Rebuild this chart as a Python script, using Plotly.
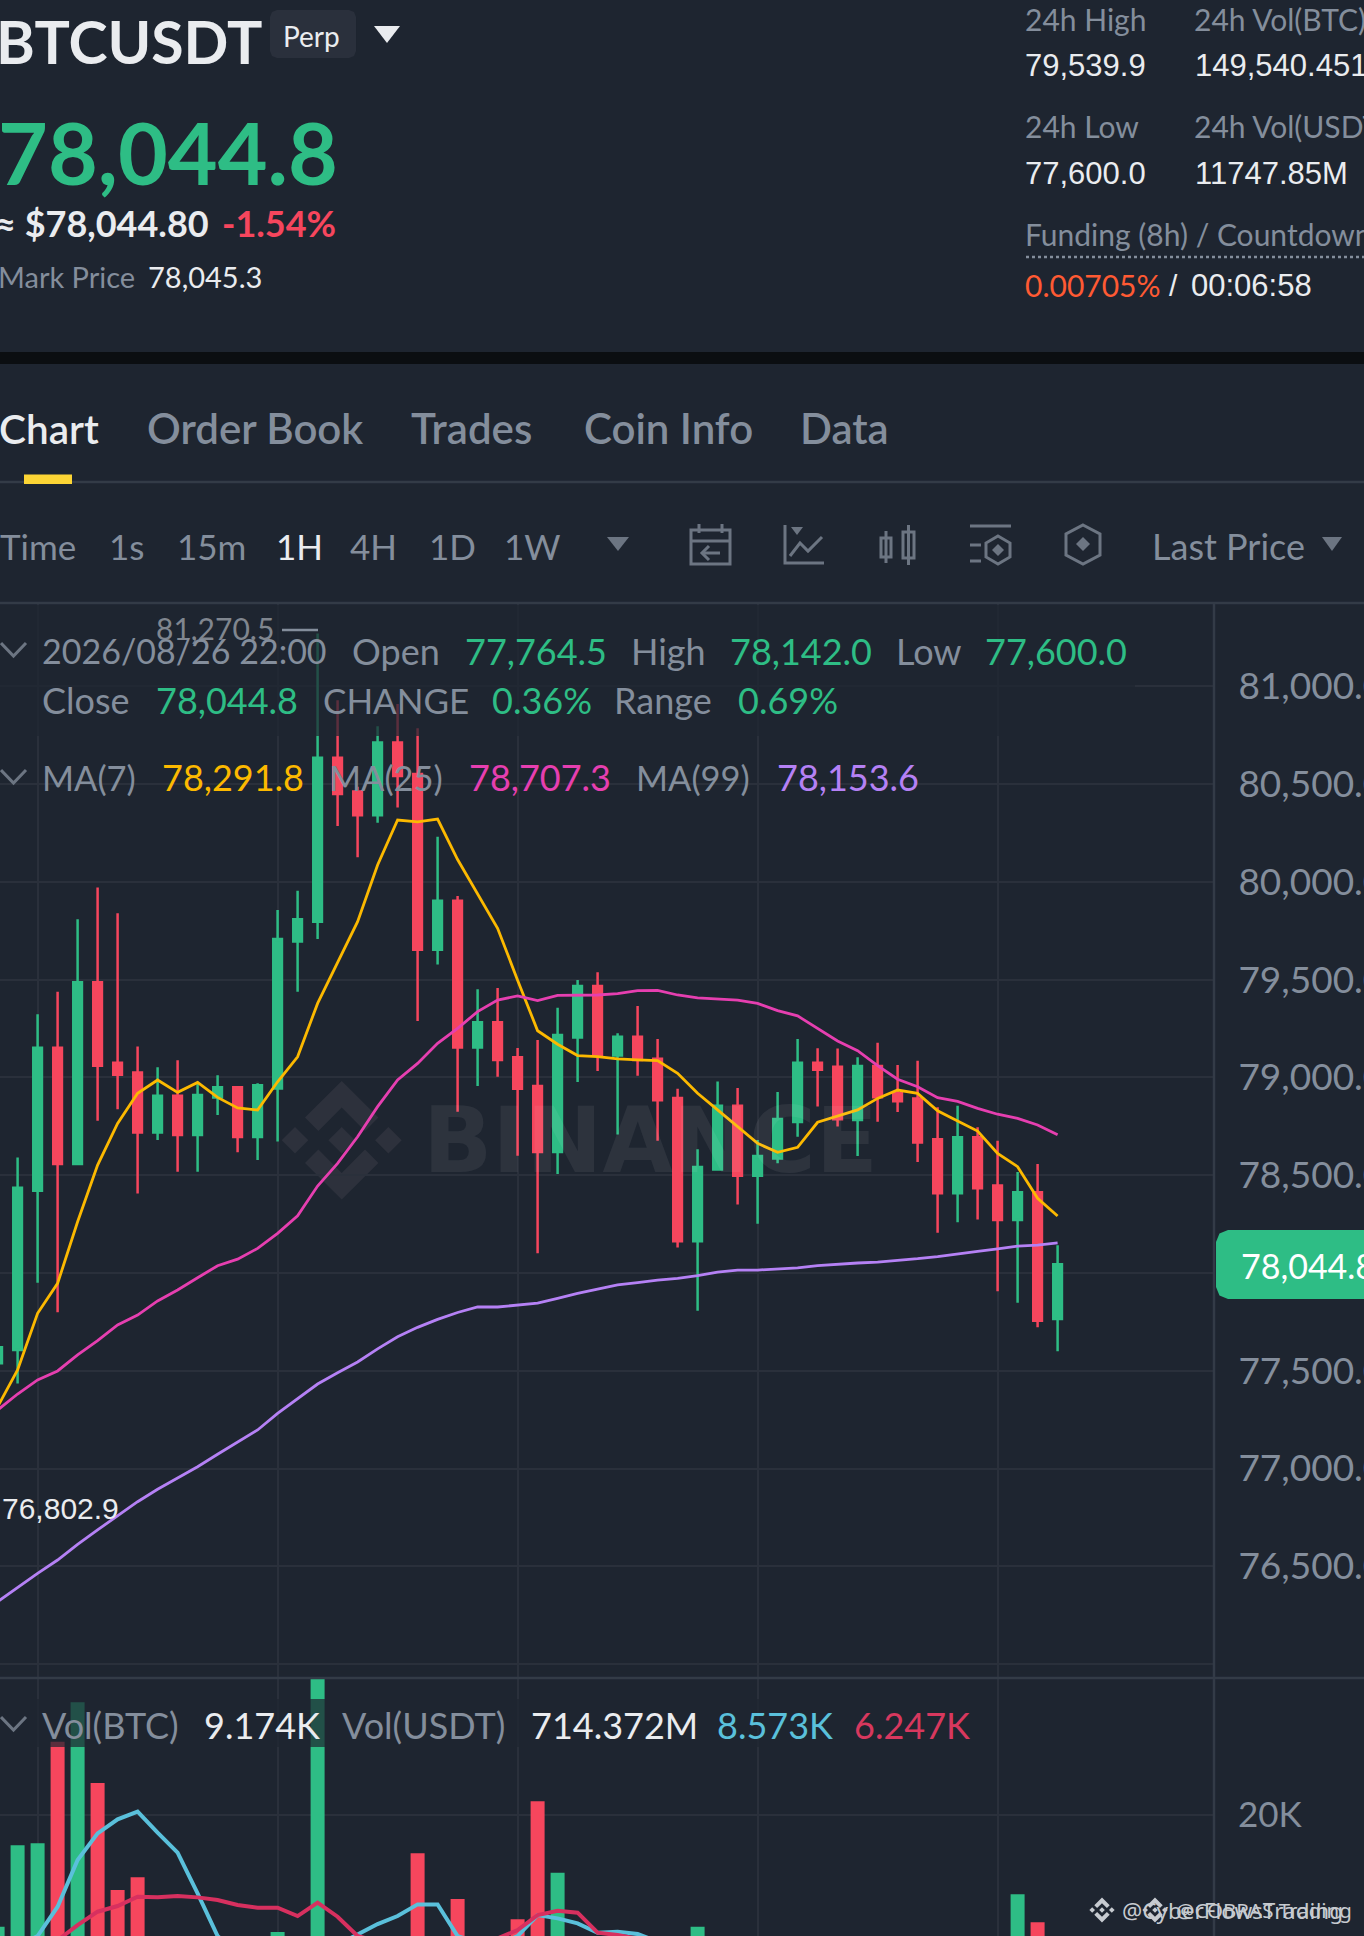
"""Binance-style BTCUSDT perp chart screen rebuilt with Plotly."""

import plotly.graph_objects as go
from plotly.subplots import make_subplots

WIDTH = 1364
HEIGHT = 1936

CANDLE_X = list(range(54))
OPEN = [77538, 77606, 78421, 79152, 78557, 79487, 79076, 79026, 78718, 78907, 78706, 78898, 78950, 78695,
        78944, 79695, 79797, 80635, 80463, 80341, 80714, 80552, 79653, 79904, 79153, 79282, 79103, 78957,
        78619, 79204, 79468, 79113, 79209, 79096, 78895, 78162, 78529, 78856, 78498, 78585, 78772, 79076,
        79055, 78783, 79059, 78919, 78892, 78684, 78408, 78694, 78448, 78271, 78413, 77764.5]
CLOSE = [77620, 78436, 79152, 78557, 79487, 79060, 79014, 78718, 78907, 78706, 78910, 78950, 78695, 78960,
         79708, 79810, 80635, 80450, 80341, 80714, 80542, 79653, 79904, 79154, 79282, 79090, 78943, 78619,
         79217, 79468, 79113, 79209, 79090, 78883, 78162, 78542, 78856, 78498, 78599, 78788, 79076, 79040,
         78786, 79059, 78899, 78878, 78668, 78408, 78694, 78433, 78271, 78413, 77756, 78044.8]
HIGH = [77640, 78591, 79323, 79439, 79809, 79972, 79840, 79158, 79052, 79088, 78978, 79011, 78956, 78970,
        79857, 79955, 81270.5, 80930, 80487, 80797, 80910, 80786, 80231, 79928, 79451, 79458, 79151, 79192,
        79357, 79499, 79538, 79226, 79366, 79197, 78943, 78633, 78979, 78946, 78680, 78926, 79197, 79149,
        79148, 79103, 79178, 79064, 79086, 78848, 78856, 78745, 78677, 78517, 78558, 78142]
LOW = [77500, 77435, 77950, 77799, 78557, 78779, 78837, 78407, 78680, 78518, 78518, 78808, 78617, 78578,
       78672, 79439, 79708, 80286, 80126, 80303, 80381, 79289, 79578, 78825, 78956, 79004, 78600, 78101,
       78506, 78977, 79033, 78709, 79009, 78677, 78130, 77807, 78529, 78350, 78252, 78561, 78697, 78851,
       78749, 78599, 78774, 78824, 78568, 78206, 78259, 78273, 77906, 77848, 77722, 77600]

MA7 = [77316, 77504, 77794, 77947, 78262, 78552, 78765, 78919, 78987, 78924, 78975, 78898, 78844, 78834,
       78978, 79106, 79379, 79592, 79797, 80087, 80317, 80308, 80322, 80115, 79942, 79763, 79498, 79239,
       79170, 79112, 79107, 79095, 79090, 79086, 79021, 78919, 78834, 78749, 78663, 78617, 78643, 78771,
       78803, 78834, 78893, 78936, 78919, 78830, 78778, 78726, 78612, 78544, 78382, 78291.8]
MA25 = [77299, 77381, 77453, 77499, 77581, 77654, 77734, 77785, 77857, 77913, 77976, 78037, 78071, 78126,
        78203, 78293, 78445, 78561, 78697, 78851, 78987, 79072, 79175, 79251, 79337, 79396, 79417, 79393,
        79420, 79420, 79422, 79429, 79444, 79446, 79422, 79407, 79403, 79396, 79379, 79342, 79315, 79252,
        79187, 79137, 79061, 78991, 78953, 78897, 78878, 78842, 78812, 78791, 78757, 78707.3]
MA99 = [76319, 76392, 76464, 76532, 76612, 76686, 76757, 76830, 76894, 76950, 77009, 77073, 77137, 77197,
        77282, 77356, 77432, 77490, 77545, 77612, 77674, 77722, 77763, 77798, 77826, 77826, 77836, 77846,
        77870, 77896, 77917, 77939, 77951, 77964, 77973, 77986, 78005, 78015, 78015, 78019, 78026, 78038,
        78046, 78051, 78056, 78063, 78073, 78084, 78099, 78111, 78123, 78137, 78143, 78153.6]

VOLUME = [10286, 17360, 17534, 26375, 29796, 22781, 13475, 14576, 7800, 7200, 6100, 4200, 5000, 4800,
          9822, 6900, 32116, 8900, 6200, 7000, 7400, 16664, 8200, 12692, 5600, 6000, 10924, 21186,
          14982, 7000, 8600, 6800, 5000, 6200, 7800, 10286, 6000, 6100, 4600, 4700, 6300, 3400,
          5600, 5200, 4600, 3300, 5000, 6700, 5800, 5400, 8000, 13098, 10663, 9174]
VOL_MA_FAST = [7600, 8600, 9475, 12025, 16084, 18403, 19621, 20288, 18461, 16721, 13185, 9475, 8000, 6700,
               6900, 6500, 7800, 8700, 9561, 10518, 11214, 12228, 12228, 9475, 8900, 8700, 9475, 11300,
               11011, 10576, 9764, 9851, 9648, 9000, 7900, 7600, 7400, 7000, 6400, 6000, 5800, 5300,
               5100, 5000, 5100, 4800, 4700, 5100, 5300, 5500, 6200, 7600, 8200, 8573]
VOL_MA_SLOW = [8000, 8300, 8700, 9100, 10431, 11590, 12083, 12895, 12837, 12953, 12837, 12605, 12170, 11938,
               11938, 11214, 12373, 11156, 9475, 9000, 8800, 8700, 8800, 8900, 8900, 9271, 9996, 11300,
               11678, 11504, 9764, 9561, 9200, 8900, 8600, 8400, 8100, 7800, 7400, 7100, 6900, 6600,
               6400, 6300, 6200, 6000, 5900, 5800, 5700, 5800, 5900, 6000, 6100, 6247]

PRICE_TICKS = [76000, 76500, 77000, 77500, 78000, 78500, 79000, 79500, 80000, 80500, 81000]
PRICE_LABELS = ["", "76,500.0", "77,000.0", "77,500.0", "78,000.0", "78,500.0", "79,000.0", "79,500.0",
                "80,000.0", "80,500.0", "81,000.0"]
GRID_CANDLES = [2, 14, 26, 38, 50]

BG = "#1e2530"
GREEN = "#2ebd85"
RED = "#f6465d"
GRID = "#2a303b"
EDGE = "#333b47"
MUTED = "#848e9c"
LIGHT = "#eaecef"
ICON = "#6c7582"
FONT = "Lato"
ARIAL = "Liberation Sans"


def px(x, y):
    return x / WIDTH, 1 - y / HEIGHT


def path(points, close=True):
    coords = [px(x, y) for x, y in points]
    text = "M" + " L".join(f"{a:.5f} {b:.5f}" for a, b in coords)
    return text + (" Z" if close else "")


def poly(points, fill=None, line=None, width=2.5, close=True, layer="above"):
    return dict(
        type="path", xref="paper", yref="paper", path=path(points, close), layer=layer,
        fillcolor=fill if fill else "rgba(0,0,0,0)",
        line=dict(color=line if line else "rgba(0,0,0,0)", width=width if line else 0),
    )


def box(x0, y0, x1, y1, fill, layer="above"):
    a, b = px(x0, y0)
    c, d = px(x1, y1)
    return dict(type="rect", xref="paper", yref="paper", x0=a, y0=b, x1=c, y1=d,
                fillcolor=fill, line_width=0, layer=layer)


def rounded(x0, y0, x1, y1, r, fill, layer="above"):
    # corners cut in short steps, enough at this radius
    k = 0.29 * r
    return poly([
        (x0 + r, y0), (x1 - r, y0), (x1 - k, y0 + k), (x1, y0 + r), (x1, y1 - r), (x1 - k, y1 - k), (x1 - r, y1),
        (x0 + r, y1), (x0 + k, y1 - k), (x0, y1 - r), (x0, y0 + r), (x0 + k, y0 + k),
    ], fill=fill, layer=layer)


def rule(x0, y0, x1, y1, color, width=2, dash=None, layer="above"):
    a, b = px(x0, y0)
    c, d = px(x1, y1)
    return dict(type="line", xref="paper", yref="paper", x0=a, y0=b, x1=c, y1=d, layer=layer,
                line=dict(color=color, width=width, dash=dash))


def label(text, x, y, size, color=MUTED, weight=400, family=FONT):
    # annotations sit about 3px right of their anchor
    a, b = px(x - 3, y)
    return dict(text=text, x=a, y=b, xref="paper", yref="paper", xanchor="left", yanchor="middle",
                showarrow=False, align="left", font=dict(family=family, size=size, color=color, weight=weight))


def logo(cx, cy, scale, fill, layer="below"):
    s = scale
    shapes = []
    for dx in (-46.7, 0, 46.7):
        x = cx + dx * s
        shapes.append(poly([(x, cy - 13.3 * s), (x + 13.3 * s, cy), (x, cy + 13.3 * s), (x - 13.3 * s, cy)],
                           fill=fill, layer=layer))
    for sign in (-1, 1):
        shapes.append(poly([
            (cx, cy + sign * 59.3 * s), (cx + 36.7 * s, cy + sign * 22.7 * s), (cx + 23.3 * s, cy + sign * 9.3 * s),
            (cx, cy + sign * 32.7 * s), (cx - 23.3 * s, cy + sign * 9.3 * s), (cx - 36.7 * s, cy + sign * 22.7 * s),
        ], fill=fill, layer=layer))
    return shapes


def chevron(x0, y0):
    return poly([(x0, y0), (x0 + 12.5, y0 + 13), (x0 + 25, y0)], line=ICON, width=3, close=False)


def triangle(x0, x1, y0, y1, fill):
    return poly([(x0, y0), (x1, y0), ((x0 + x1) / 2, y1)], fill=fill)


def toolbar_icons():
    shapes = []
    # calendar
    shapes.append(poly([(691, 530), (730, 530), (730, 564), (691, 564)], line=ICON, width=3))
    shapes.append(rule(691, 541, 730, 541, ICON, 3))
    shapes.append(rule(699, 524, 699, 533, ICON, 3))
    shapes.append(rule(722, 524, 722, 533, ICON, 3))
    shapes.append(poly([(720, 553), (702, 553)], line=ICON, width=3, close=False))
    shapes.append(poly([(709, 546), (702, 553), (709, 560)], line=ICON, width=3, close=False))
    # line chart
    shapes.append(poly([(785, 525), (785, 563), (824, 563)], line=ICON, width=3, close=False))
    shapes.append(poly([(790, 556), (800, 543), (808, 551), (822, 537)], line=ICON, width=3, close=False))
    shapes.append(poly([(791, 527), (803, 527), (797, 535)], fill=ICON))
    # candles
    shapes.append(poly([(881, 538), (891, 538), (891, 557), (881, 557)], line=ICON, width=3))
    shapes.append(rule(886, 531, 886, 563, ICON, 3))
    shapes.append(poly([(903, 532), (914, 532), (914, 558), (903, 558)], line=ICON, width=3))
    shapes.append(rule(908.5, 525, 908.5, 565, ICON, 3))
    # order lines
    shapes.append(rule(970, 526, 1011, 526, ICON, 3))
    shapes.append(rule(970, 545, 981, 545, ICON, 3))
    shapes.append(rule(970, 561, 981, 561, ICON, 3))
    shapes.append(poly([(998, 536), (1010, 543), (1010, 557), (998, 564), (986, 557), (986, 543)], line=ICON, width=3))
    shapes.append(poly([(998, 544), (1004, 550), (998, 556), (992, 550)], fill=ICON))
    # hexagon
    shapes.append(poly([(1083, 525), (1100, 534), (1100, 555), (1083, 564), (1066, 555), (1066, 534)], line=ICON, width=3))
    shapes.append(poly([(1083, 537), (1090, 544), (1083, 551), (1076, 544)], fill=ICON))
    return shapes


def build_shapes():
    shapes = []
    shapes.append(box(0, 352, WIDTH, 364, "#0b0e11"))
    shapes.append(rule(0, 482, WIDTH, 482, EDGE, 2.5))
    shapes.append(box(24, 474.5, 72, 484, "#fcd535"))
    shapes.append(rule(0, 603, WIDTH, 603, EDGE, 2.5))
    shapes.append(rule(1214, 603, 1214, HEIGHT, EDGE, 2.5))
    shapes.append(rule(0, 1678, WIDTH, 1678, EDGE, 2.5))
    shapes.append(rounded(270, 10, 356, 58, 7, "#2a303c"))
    shapes.append(triangle(374, 400, 26, 43, LIGHT))
    shapes.append(rule(1026, 257, WIDTH, 257, MUTED, 2.5, dash="dot"))
    shapes.append(triangle(607, 629, 537, 551, ICON))
    shapes.append(triangle(1322, 1342, 537, 551, ICON))
    shapes.extend(toolbar_icons())
    # legend backdrops dim whatever runs under them
    shapes.append(box(0, 605, 1135, 736, "rgba(30,37,48,0.72)"))
    shapes.append(box(0, 1699, 970, 1747, "rgba(30,37,48,0.72)"))
    shapes.append(rule(282, 630, 318, 630, MUTED, 2.5))
    shapes.append(chevron(1, 643))
    shapes.append(chevron(1, 770))
    shapes.append(chevron(1, 1717))
    shapes.append(rounded(1216, 1230, WIDTH + 20, 1299, 12, GREEN))
    shapes.extend(logo(341.7, 1140.3, 1, "#2d313c"))
    shapes.extend(logo(1102, 1910, 0.21, "#c7cbd0", layer="above"))
    shapes.extend(logo(1155, 1910, 0.21, "#c7cbd0", layer="above"))
    return shapes


def build_annotations():
    notes = [
        label("BINANCE", 424, 1140, 91, "rgba(255,255,255,0.065)", 700, family="DejaVu Sans"),
        label("BTCUSDT", -3, 41, 59, LIGHT, 700),
        label("Perp", 284, 36, 28, LIGHT),
        label("78,044.8", -1, 152, 86, GREEN, 700),
        label("≈ $78,044.80", -4, 223, 36, LIGHT, 700),
        label("-1.54%", 223, 223, 36, RED, 700),
        label("Mark Price", -1, 276, 29, MUTED),
        label("78,045.3", 149, 276, 29, LIGHT),
        label("24h High", 1026, 19, 30),
        label("24h Vol(BTC)", 1195, 19, 30),
        label("79,539.9", 1026, 66, 31, LIGHT, family=ARIAL),
        label("149,540.451", 1196, 66, 31, LIGHT, family=ARIAL),
        label("24h Low", 1026, 126.5, 30),
        label("24h Vol(USDT)", 1195, 126.5, 30),
        label("77,600.0", 1026, 174, 31, LIGHT, family=ARIAL),
        label("11747.85M", 1196, 174, 31, LIGHT, family=ARIAL),
        label("Funding (8h) / Countdown", 1026, 234.5, 30),
        label("0.00705%", 1026, 285, 30, "#ff5a33"),
        label("/", 1170, 285, 30, LIGHT, family=ARIAL),
        label("00:06:58", 1192, 285, 31, LIGHT, family=ARIAL),
        label("Chart", 0, 428, 40.5, LIGHT, 600),
        label("Order Book", 148, 428, 42, MUTED, 600),
        label("Trades", 412, 428, 42, MUTED, 600),
        label("Coin Info", 585, 428, 42, MUTED, 600),
        label("Data", 801, 428, 42, MUTED, 600),
        label("Time", 1, 546, 35),
        label("1s", 110, 546, 35),
        label("15m", 178, 546, 35),
        label("1H", 277, 546, 35, LIGHT),
        label("4H", 351, 546, 35),
        label("1D", 430, 546, 35),
        label("1W", 505, 546, 35),
        label("Last Price", 1153, 546, 36),
        label("81,270.5", 157, 628, 30, "#80868f"),
        label("2026/08/26 22:00", 43, 651, 34),
        label("Open", 353, 651, 36),
        label("77,764.5", 466, 651, 36, GREEN),
        label("High", 632, 651, 36),
        label("78,142.0", 731, 651, 36, GREEN),
        label("Low", 897, 651, 36),
        label("77,600.0", 986, 651, 36, GREEN),
        label("Close", 43, 700, 36),
        label("78,044.8", 157, 700, 36, GREEN),
        label("CHANGE", 324, 700, 35),
        label("0.36%", 493, 700, 36, GREEN),
        label("Range", 615, 700, 36),
        label("0.69%", 739, 700, 36, GREEN),
        label("MA(7)", 43, 777, 34.5),
        label("78,291.8", 163, 777, 36, "#fcb900"),
        label("MA(25)", 330, 777, 34.5),
        label("78,707.3", 470, 777, 36, "#e63fb0"),
        label("MA(99)", 637, 777, 34.5),
        label("78,153.6", 778, 777, 36, "#b581f5"),
        label("76,802.9", 3, 1508, 30, LIGHT, family=ARIAL),
        label("78,044.8", 1242, 1265, 34, "#ffffff"),
        label("Vol(BTC)", 43, 1725, 36),
        label("9.174K", 205, 1725, 36, LIGHT),
        label("Vol(USDT)", 343, 1725, 36),
        label("714.372M", 532, 1725, 36, LIGHT),
        label("8.573K", 718, 1725, 36, "#5ac0db"),
        label("6.247K", 855, 1725, 36, "#d7385e"),
        label("@CyberFlowsTrading", 1123, 1910, 22.5, "#c7cbd0", family="Noto Sans"),
        label("@COBRAS Trading", 1177, 1910, 20.5, "#c7cbd0", family="Noto Sans"),
    ]
    return notes


def add_traces(fig):
    fig.add_trace(
        go.Candlestick(
            x=CANDLE_X, open=OPEN, high=HIGH, low=LOW, close=CLOSE, name="BTCUSDT", whiskerwidth=0,
            increasing=dict(line=dict(color=GREEN, width=2.5), fillcolor=GREEN),
            decreasing=dict(line=dict(color=RED, width=2.5), fillcolor=RED),
        ),
        row=1, col=1,
    )
    for name, series, color in (("MA(7)", MA7, "#fcb900"), ("MA(25)", MA25, "#e63fb0"), ("MA(99)", MA99, "#b581f5")):
        fig.add_trace(go.Scatter(x=CANDLE_X, y=series, mode="lines", name=name, line=dict(color=color, width=2.8)),
                      row=1, col=1)
    colors = [GREEN if c >= o else RED for o, c in zip(OPEN, CLOSE)]
    fig.add_trace(go.Bar(x=CANDLE_X, y=VOLUME, name="Vol(BTC)", width=0.7, marker=dict(color=colors, line_width=0)),
                  row=2, col=1)
    fig.add_trace(go.Scatter(x=CANDLE_X, y=VOL_MA_FAST, mode="lines", name="MA fast",
                             line=dict(color="#5ac0db", width=4)), row=2, col=1)
    fig.add_trace(go.Scatter(x=CANDLE_X, y=VOL_MA_SLOW, mode="lines", name="MA slow",
                             line=dict(color="#d7305f", width=4)), row=2, col=1)


def main():
    fig = make_subplots(rows=2, cols=1, shared_xaxes=True)
    add_traces(fig)

    split = 1 - 1678 / HEIGHT
    x_common = dict(domain=[0, 1214 / WIDTH], range=[0.12, 60.82], tickvals=GRID_CANDLES, showticklabels=False,
                    showgrid=True, gridcolor=GRID, gridwidth=2, zeroline=False, showline=False, ticks="",
                    rangeslider_visible=False)
    fig.update_xaxes(**x_common, row=1, col=1)
    fig.update_xaxes(**x_common, row=2, col=1)

    fig.update_yaxes(
        domain=[split, 1 - 603 / HEIGHT], range=[75928.4, 81427], side="right", tickvals=PRICE_TICKS,
        ticktext=PRICE_LABELS, ticks="outside", ticklen=16, tickcolor="rgba(0,0,0,0)", ticklabeloverflow="allow",
        tickfont=dict(family=FONT, size=37, color=MUTED), showgrid=True, gridcolor=GRID, gridwidth=2,
        zeroline=False, showline=False, row=1, col=1,
    )
    fig.update_yaxes(
        domain=[0, split], range=[9478, 31913], side="right", tickvals=[20000], ticktext=["20K"], ticks="outside",
        ticklen=16, tickcolor="rgba(0,0,0,0)", ticklabeloverflow="allow",
        tickfont=dict(family=FONT, size=35, color=MUTED), showgrid=True, gridcolor=GRID, gridwidth=2,
        zeroline=False, showline=False, row=2, col=1,
    )

    fig.update_layout(
        width=WIDTH, height=HEIGHT, margin=dict(l=0, r=0, t=0, b=0, autoexpand=False), paper_bgcolor=BG,
        plot_bgcolor=BG, showlegend=False, boxgap=0.38, hovermode=False, dragmode=False,
        shapes=build_shapes(), annotations=build_annotations(),
    )
    fig.write_html(
        "out.html",
        config={"displayModeBar": False},
        post_script="document.body.style.margin='0';document.body.style.overflow='hidden';",
    )


if __name__ == "__main__":
    main()
